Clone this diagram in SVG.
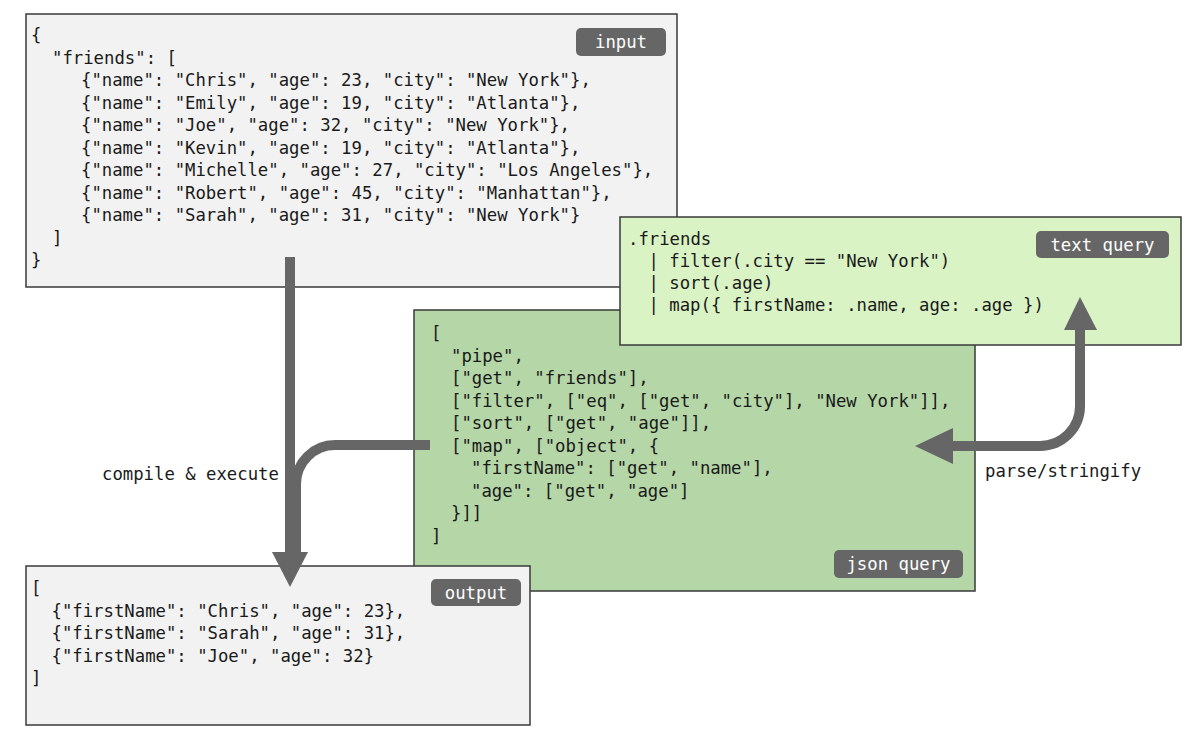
<svg xmlns="http://www.w3.org/2000/svg" width="1200" height="741" viewBox="0 0 1200 741">
<style>
.box{stroke:#3a3a3a;stroke-width:1.5}
.gray{fill:#f2f2f2}
.lg{fill:#d9f3c5}
.dg{fill:#b5d6a7}
.code{font-family:"DejaVu Sans Mono","Liberation Mono",monospace;font-size:17.3px;fill:#1a1a1a;white-space:pre}
.badge{fill:#666666}
.bt{font-family:"DejaVu Sans Mono","Liberation Mono",monospace;font-size:17.3px;fill:#ffffff;text-anchor:middle}
.conn{fill:none;stroke:#666666;stroke-width:10}
.head{fill:#666666}
</style>
<rect width="1200" height="741" fill="#ffffff"/>
<g id="input">
<rect class="box gray" x="26" y="14" width="651" height="273"/>
<rect class="badge" x="576" y="28" width="90" height="28" rx="5"/>
<text class="bt" x="621" y="48">input</text>
<text class="code" x="31" y="41">{</text>
<text class="code" x="52" y="63.5">"friends": [</text>
<text class="code" x="81" y="86">{"name": "Chris", "age": 23, "city": "New York"},</text>
<text class="code" x="81" y="108.5">{"name": "Emily", "age": 19, "city": "Atlanta"},</text>
<text class="code" x="81" y="131">{"name": "Joe", "age": 32, "city": "New York"},</text>
<text class="code" x="81" y="153.5">{"name": "Kevin", "age": 19, "city": "Atlanta"},</text>
<text class="code" x="81" y="176">{"name": "Michelle", "age": 27, "city": "Los Angeles"},</text>
<text class="code" x="81" y="198.5">{"name": "Robert", "age": 45, "city": "Manhattan"},</text>
<text class="code" x="81" y="221">{"name": "Sarah", "age": 31, "city": "New York"}</text>
<text class="code" x="52" y="243.5">]</text>
<text class="code" x="31" y="266">}</text>
</g>
<g id="json-query">
<rect class="box dg" x="414" y="310" width="561" height="281"/>
<rect class="badge" x="834" y="550" width="129" height="28" rx="5"/>
<text class="bt" x="898.5" y="570">json query</text>
<text class="code" x="431" y="339">[</text>
<text class="code" x="451" y="361.5">"pipe",</text>
<text class="code" x="451" y="384">["get", "friends"],</text>
<text class="code" x="451" y="406.5">["filter", ["eq", ["get", "city"], "New York"]],</text>
<text class="code" x="451" y="429">["sort", ["get", "age"]],</text>
<text class="code" x="451" y="451.5">["map", ["object", {</text>
<text class="code" x="471" y="474">"firstName": ["get", "name"],</text>
<text class="code" x="471" y="496.5">"age": ["get", "age"]</text>
<text class="code" x="451" y="519">}]]</text>
<text class="code" x="431" y="541.5">]</text>
</g>
<g id="text-query">
<rect class="box lg" x="620" y="217" width="561" height="128"/>
<rect class="badge" x="1036" y="231" width="133" height="27" rx="5"/>
<text class="bt" x="1102.5" y="250.5">text query</text>
<text class="code" x="628" y="245">.friends</text>
<text class="code" x="648.5" y="267">| filter(.city == "New York")</text>
<text class="code" x="648.5" y="289">| sort(.age)</text>
<text class="code" x="648.5" y="311">| map({ firstName: .name, age: .age })</text>
</g>
<g id="output">
<rect class="box gray" x="26" y="566" width="504" height="159"/>
<rect class="badge" x="431" y="579" width="90" height="27" rx="5"/>
<text class="bt" x="476" y="598.5">output</text>
<text class="code" x="31" y="594">[</text>
<text class="code" x="51.5" y="616.5">{"firstName": "Chris", "age": 23},</text>
<text class="code" x="51.5" y="639">{"firstName": "Sarah", "age": 31},</text>
<text class="code" x="51.5" y="661.5">{"firstName": "Joe", "age": 32}</text>
<text class="code" x="31" y="684">]</text>
</g>
<g id="connectors">
<path class="conn" d="M290 257 V556" stroke-width="9"/>
<path class="conn" d="M430 445 H335 A39 39 0 0 0 296 484 V556" stroke-width="9"/>
<polygon class="head" points="272,552 308,552 290,587"/>
<path class="conn" d="M1080 326 V406 A40 40 0 0 1 1040 446 H950" stroke-width="10"/>
<polygon class="head" points="1064,330 1097,330 1080,297"/>
<polygon class="head" points="953,428 953,464 915,446"/>
<text class="code" x="102" y="480">compile &amp; execute</text>
<text class="code" x="985" y="477">parse/stringify</text>
</g>
</svg>
